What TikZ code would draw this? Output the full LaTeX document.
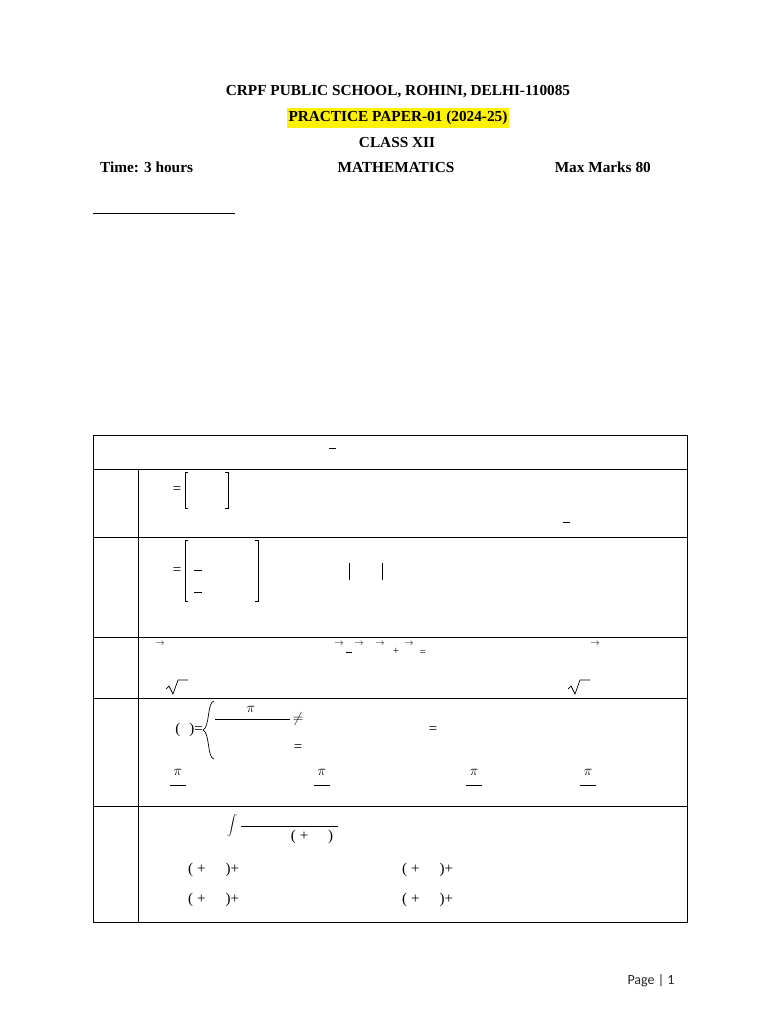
\documentclass[tikz,border=0pt]{standalone}
\usepackage{fontspec}
\setmainfont{Liberation Serif}
\newfontfamily\calfont{Carlito}
\begin{document}
\begin{tikzpicture}[x=1pt,y=-1pt,
  hd/.style={font=\bfseries\fontsize{15.3}{17}\selectfont,inner sep=0pt},
  mth/.style={font=\fontsize{15}{17}\selectfont,inner sep=0pt},
  arr/.style={font=\fontsize{9}{10}\selectfont,inner sep=0pt},
  ln/.style={line width=0.7pt}]
\useasboundingbox[fill=white] (0,0) rectangle (768,1024);
\node[hd] (t1) at (398,92) {CRPF PUBLIC SCHOOL, ROHINI, DELHI-110085};
\fill[yellow] (287,108) rectangle (509,128);
\node[hd] (t2) at (398,118) {PRACTICE PAPER-01 (2024-25)};
\node[hd] (t3) at (397,143) {CLASS XII};
\node[hd,anchor=base west] (t4) at (100,173) {Time: 3 hours};
\node[hd,anchor=base] (t5) at (396,173) {MATHEMATICS};
\node[hd,anchor=base east] (t6) at (651,173) {Max Marks 80};
\draw[ln] (93,213) -- (235,213);
% table
\draw[ln] (93,435) rectangle (687,922);
\foreach \y in {469,537,637,698,806} \draw[ln] (93,\y) -- (687,\y);
\draw[ln] (138,469) -- (138,922);
% row1
\draw[ln] (329,448) -- (336,448);
% row2
\node[mth] (e1) at (177,490) {=};
\draw[ln] (188,472) -- (185,472) -- (185,508) -- (188,508);
\draw[ln] (225,472) -- (228,472) -- (228,508) -- (225,508);
\draw[ln] (563,522) -- (570,522);
% row3
\node[mth] (e2) at (177,571) {=};
\draw[ln] (188,540) -- (185,540) -- (185,601) -- (188,601);
\draw[ln] (255,540) -- (258,540) -- (258,601) -- (255,601);
\draw[ln] (194,570) -- (202,570);
\draw[ln] (194,592) -- (202,592);
\draw[ln] (349,563) -- (349,580);
\draw[ln] (382,563) -- (382,580);
% row4
\node[arr] (a1) at (160,644) {$\rightarrow$};
\node[arr] (a2) at (339,644) {$\rightarrow$};
\node[arr] (a3) at (359,644) {$\rightarrow$};
\node[arr] (a4) at (380,644) {$\rightarrow$};
\node[arr] (a5) at (409,644) {$\rightarrow$};
\node[arr] (a6) at (595,644) {$\rightarrow$};
\draw[ln] (346,652) -- (352,652);
\node[arr,font=\fontsize{11}{12}\selectfont] (p1) at (396,651) {+};
\node[arr,font=\fontsize{11}{12}\selectfont] (q1) at (423,653) {=};
\draw[ln] (166,689) -- (169,686) -- (173,694) -- (178,680) -- (188,680);
\draw[ln] (568,689) -- (571,686) -- (575,694) -- (580,680) -- (590,680);
% row5
\node[mth] (pi0) at (251,709) {$\pi$};
\draw[ln] (215,719) -- (290,719);
\node[mth] (f) at (189,730) {(\hspace{9pt})=};
\draw[ln] (214,701) .. controls (207,702) and (210,727) .. (203,730) .. controls (210,733) and (207,758) .. (214,759);
\node[mth] (ne) at (298,719) {$\neq$};
\node[mth] (eq1) at (298,748) {=};
\node[mth] (eq2) at (433,730) {=};
\foreach \x in {178,322,474,588} {
  \node[mth] at (\x,772) {$\pi$};
  \draw[ln] (\x-8,785) -- (\x+8,785);
}
% row6
\node[mth] (int) at (232,826) {$\displaystyle\int$};
\draw[ln] (241,826) -- (338,826);
\node[mth] (d1) at (312,837) {(\hspace{4pt}+\hspace{20pt})};
\node[mth,anchor=west] (r1) at (188,870) {(\hspace{4pt}+\hspace{20pt})+};
\node[mth,anchor=west] (r2) at (188,900) {(\hspace{4pt}+\hspace{20pt})+};
\node[mth,anchor=west] (r3) at (402,870) {(\hspace{4pt}+\hspace{20pt})+};
\node[mth,anchor=west] (r4) at (402,900) {(\hspace{4pt}+\hspace{20pt})+};
% footer
\node[inner sep=0pt,font=\calfont\fontsize{14}{16}\selectfont,text=black!85] (pg) at (651,981) {Page | 1};
\end{tikzpicture}
\end{document}
